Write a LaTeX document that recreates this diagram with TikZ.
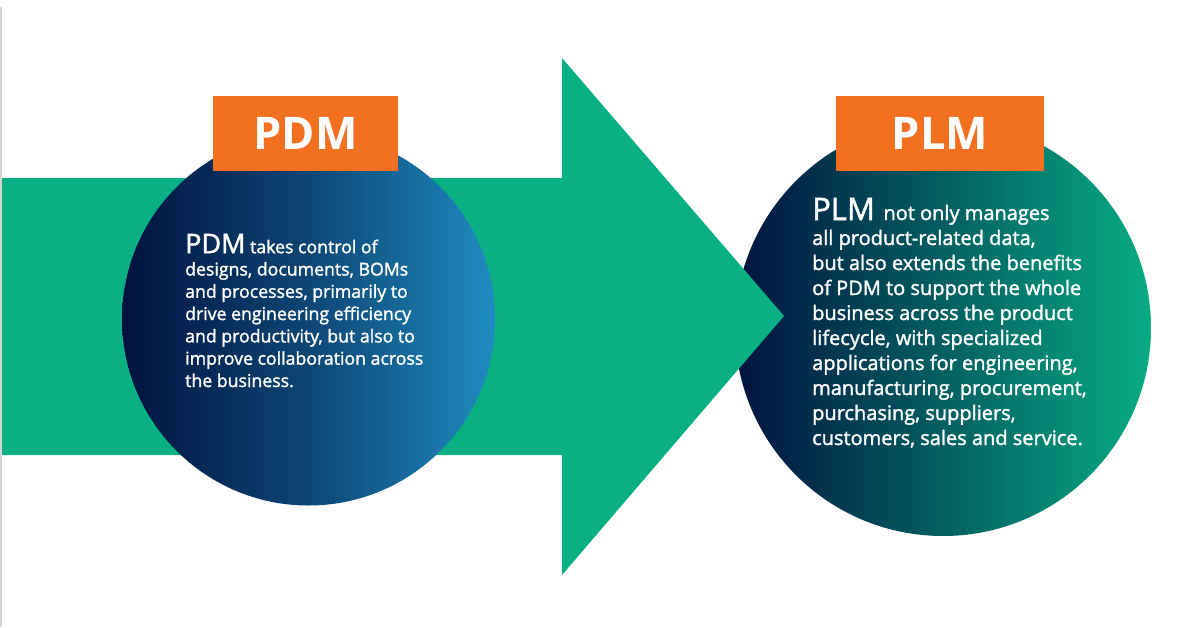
\documentclass[tikz,border=0pt]{standalone}
\usepackage{fontspec}
\setmainfont{Open Sans}[RawFeature={embolden=1.6}]
\newfontfamily\headfont{Open Sans}[BoldFont=* Bold]
\definecolor{arrowgreen}{HTML}{08B084}
\definecolor{tagorange}{HTML}{F47021}
\definecolor{navy}{HTML}{00123F}
\definecolor{pdmmid}{HTML}{0D4674}
\definecolor{pdmblue}{HTML}{1F8BC0}
\definecolor{plmgreen}{HTML}{07AC83}
\definecolor{edgegrey}{HTML}{D4D4D4}
\tikzset{
  tag/.style={fill=tagorange, text=white, inner sep=0pt, font=\headfont\bfseries\fontsize{45}{45}\selectfont},
  blob/.style={circle, inner sep=0pt, left color=navy},
  blurb/.style={text=white, inner sep=0pt, align=left, anchor=base west}
}
\begin{document}
\begin{tikzpicture}[x=1pt, y=-1pt]
            \useasboundingbox (0, 0) rectangle (1200, 627);
            \fill[white] (0, 0) rectangle (1200, 627);
            \fill[edgegrey] (0, 7) rectangle (2, 627);
            \node[blob, right color=plmgreen, minimum size=416pt] (plmcircle) at (943, 328) {};
            % big arrow over the right circle, under the left one
            \fill[arrowgreen] (2, 178) -- (562, 178) -- (562, 58) -- (784, 316) -- (562, 575) -- (562, 455) -- (2, 455) -- cycle;
            \node[blob, right color=pdmblue, middle color=pdmmid, minimum size=373pt] (pdmcircle) at (308.5, 319) {};
            \node[tag, minimum width=185pt, minimum height=75pt] (pdmtag) at (305.5, 133.5) {PDM};
            \node[tag, minimum width=208pt, minimum height=75pt] (plmtag) at (940, 133.5) {PLM};
            \node[blurb, font=\fontsize{17.7}{22.3}\selectfont] (pdmtext) at (185, 387)
              {{\fontsize{27}{22.3}\selectfont PDM} takes control of\\
               designs, documents, BOMs\\
               and processes, primarily to\\
               drive engineering efficiency\\
               and productivity, but also to\\
               improve collaboration across\\
               the business.};
            \node[blurb, font=\fontsize{20}{25}\selectfont] (plmtext) at (812, 445)
              {{\fontsize{31}{25}\selectfont PLM}\, not only manages\\
               all product-related data,\\
               but also extends the benefits\\
               of PDM to support the whole\\
               business across the product\\
               lifecycle, with specialized\\
               applications for engineering,\\
               manufacturing, procurement,\\
               purchasing, suppliers,\\
               customers, sales and service.};
          \end{tikzpicture}
\end{document}
